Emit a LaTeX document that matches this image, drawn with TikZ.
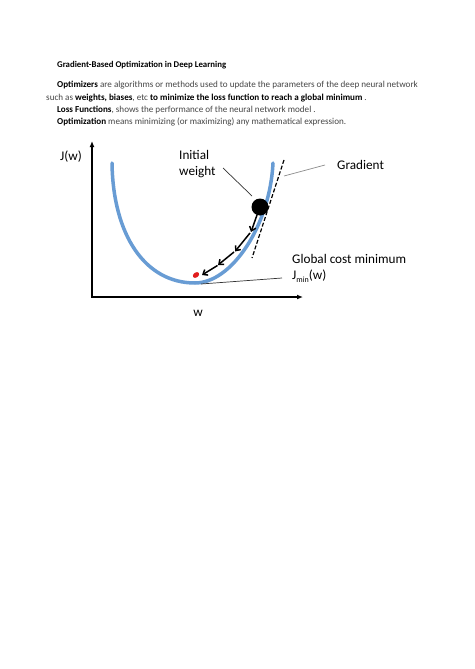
\documentclass[tikz,border=0pt]{standalone}
\usepackage{fontspec}
\setmainfont{Carlito}
\usetikzlibrary{arrows.meta,shapes.geometric}
\definecolor{curveblue}{RGB}{104,156,212}
\definecolor{dotred}{RGB}{225,30,30}
\definecolor{bodygray}{RGB}{70,70,70}
\begin{document}
\begin{tikzpicture}[x=1pt,y=-1pt,
  body/.style={font=\fontsize{9.1}{11}\selectfont, anchor=base west, inner sep=0pt, text=bodygray},
  lbl/.style={font=\fontsize{13.2}{16.5}\selectfont, inner sep=0pt},
  axisline/.style={line width=1.8pt, {Latex[length=6pt,width=5pt]}-{Latex[length=6pt,width=5pt]}},
  movearrow/.style={line width=1.5pt, -{Straight Barb[length=4pt,width=6.5pt]}},
  pointer/.style={line width=0.7pt, black!80}
]
\useasboundingbox (0,0) rectangle (474,669);
\fill[white] (0,0) rectangle (474,669);

% text block
\node[body, text=black, font=\fontsize{8.8}{11}\selectfont] (title) at (57,67) {\textbf{Gradient-Based Optimization in Deep Learning}};
\node[body] (l1) at (57,88) {\textbf{\color{black}Optimizers} are algorithms or methods used to update the parameters of the deep neural network};
\node[body] (l2) at (46,100) {such as \textbf{\color{black}weights, biases}, etc \textbf{\color{black}to minimize the loss function to reach a global minimum} .};
\node[body] (l3) at (57,112) {\textbf{\color{black}Loss Functions}, shows the performance of the neural network model .};
\node[body] (l4) at (57,124) {\textbf{\color{black}Optimization} means minimizing (or maximizing) any mathematical expression.};

% axes
\coordinate (ytop) at (92,141);
\coordinate (O) at (92,297);
\coordinate (xend) at (303,297);
\draw[axisline] (ytop) -- (O) -- (xend);
\node[lbl] (J) at (71,157) {J(w)};
\node[lbl] (w) at (198,313) {w};

% cost curve
\draw[curveblue, line width=3.5pt, line cap=round]
  (112,163) .. controls (113,235) and (145,283) .. (195,283)
            .. controls (232,283) and (270,225) .. (273,163);

% tangent
\coordinate (t1) at (284,160);
\coordinate (t2) at (252,258);
\draw[line width=1.2pt, dash pattern=on 4pt off 2pt] (t1) -- (t2);

% ball and minimum
\node[circle, fill=black, minimum size=17pt, inner sep=0pt] (ball) at (260,207) {};
\node[ellipse, fill=dotred, minimum width=7pt, minimum height=5pt, inner sep=0pt, rotate=35] (dot) at (196,275) {};

% descent arrows
\coordinate (a0) at (257,215);
\coordinate (a1) at (251,232);
\coordinate (b1) at (250,233);
\coordinate (a2) at (235,251.5);
\coordinate (b2) at (234,252);
\coordinate (a3) at (218,265);
\coordinate (b3) at (217.5,265.5);
\coordinate (a4) at (202,275);
\draw[movearrow] (a0) -- (a1);
\draw[movearrow] (b1) -- (a2);
\draw[movearrow] (b2) -- (a3);
\draw[movearrow] (b3) -- (a4);

% labels
\node[lbl, align=left, anchor=north west] (init) at (179,150) {Initial\\weight};
\coordinate (initstart) at (223,168);
\coordinate (initend) at (252,196);
\draw[pointer] (initstart) -- (initend);

\node[lbl, anchor=west] (grad) at (337,165) {Gradient};
\coordinate (gradend) at (284,176);
\draw[pointer, black!45] ([xshift=-12pt]grad.west) -- (gradend);

\node[lbl, anchor=west] (gcm) at (292,259) {Global cost minimum};
\node[lbl, anchor=west] (jmin) at (292,276) {J\raisebox{-2.5pt}{\fontsize{8}{8}\selectfont min}(w)};
\coordinate (minpt) at (201,284);
\draw[pointer] ([xshift=-10pt,yshift=-2pt]jmin.west) -- (minpt);
\end{tikzpicture}
\end{document}
